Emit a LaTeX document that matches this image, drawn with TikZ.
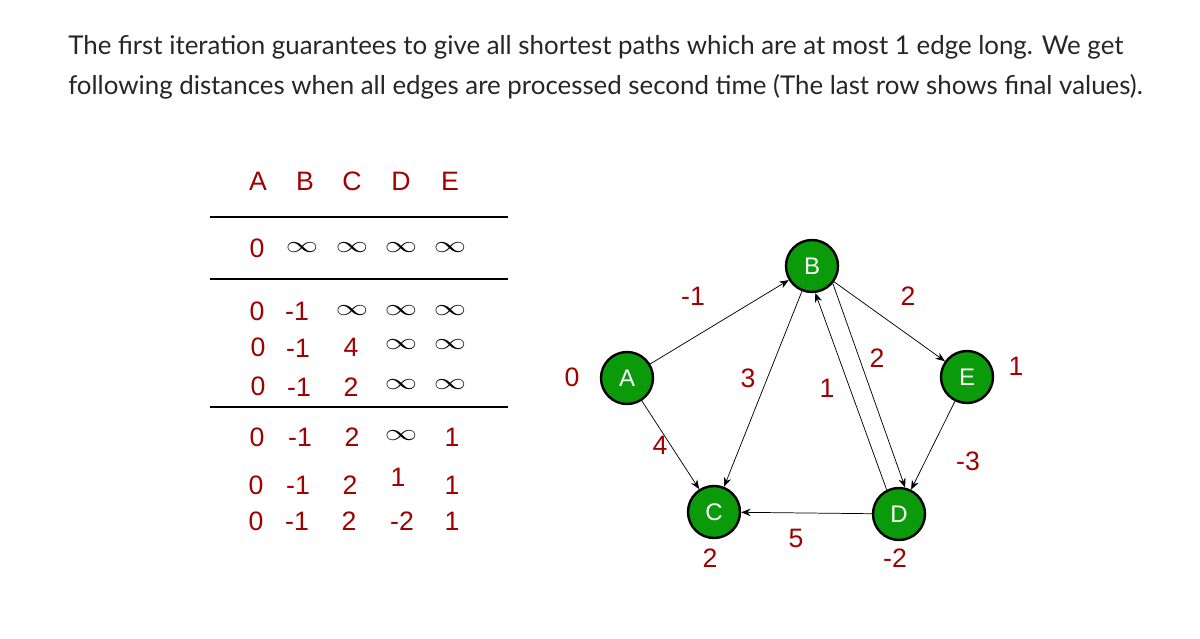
\documentclass[tikz,border=0pt]{standalone}
\usepackage{fontspec}
\setmainfont{Liberation Sans}
\newfontfamily\titlefont{Lato}
\usetikzlibrary{arrows.meta}
\definecolor{dred}{HTML}{A00000}
\definecolor{ngreen}{HTML}{0A9A0A}
\tikzset{
 val/.style={text=dred,font=\fontsize{20}{20}\selectfont,inner sep=0pt},
 inf/.style={inner sep=0pt,font=\fontsize{17}{17}\selectfont},
 vtx/.style={circle,draw=black,line width=1.8pt,fill=ngreen,minimum size=39pt,inner sep=0pt,text=white,font=\fontsize{18}{18}\selectfont},
 edge/.style={-{Stealth[length=7pt,width=5.5pt]},line width=0.55pt},
 rule/.style={line width=0.9pt}
}
\newcommand{\infs}{\scalebox{1.4}[1]{$\infty$}}
\begin{document}
\begin{tikzpicture}[x=0.75pt,y=-0.75pt]
\useasboundingbox (0,0) rectangle (1200,639);
\node[anchor=west,inner sep=0pt,font=\titlefont\fontsize{19.4}{20}\selectfont,text=black!85] (t1) at (68,47) {The first iteration guarantees to give all shortest paths which are at most 1 edge long. We get};
\node[anchor=west,inner sep=0pt,font=\titlefont\fontsize{19.4}{20}\selectfont,text=black!85] (t2) at (68,87) {following distances when all edges are processed second time (The last row shows final values).};
% header
\foreach \l/\x in {A/258,B/305,C/352,D/401,E/450} \node[val] (h\l) at (\x,181) {\l};
\draw[rule] (210,217) -- (508,217);
\draw[rule] (210,279) -- (508,279);
\draw[rule] (210,407) -- (508,407);
% row 0
\node[val] (r1a) at (257,248) {0};
\foreach \x/\n in {302/b,352/c,401/d,450/e} \node[inf] (r1\n) at (\x,248) {\infs};
% rows
\node[val] (r2a) at (257,311) {0}; \node[val] (r2b) at (297,311) {-1};
\foreach \x/\n in {352/c,401/d,450/e} \node[inf] (r2\n) at (\x,311) {\infs};
\node[val] (r3a) at (258,347) {0}; \node[val] (r3b) at (298,348) {-1}; \node[val] (r3c) at (351,347) {4};
\foreach \x/\n in {401/d,450/e} \node[inf] (r3\n) at (\x,345) {\infs};
\node[val] (r4a) at (258,386) {0}; \node[val] (r4b) at (299,387) {-1}; \node[val] (r4c) at (351,387) {2};
\foreach \x/\n in {401/d,450/e} \node[inf] (r4\n) at (\x,385) {\infs};
\node[val] (r5a) at (257,437) {0}; \node[val] (r5b) at (300,437) {-1}; \node[val] (r5c) at (352,437) {2};
\node[inf] (r5d) at (401,436) {\infs}; \node[val] (r5e) at (452,437) {1};
\node[val] (r6a) at (256,485) {0}; \node[val] (r6b) at (298,485) {-1}; \node[val] (r6c) at (350,485) {2};
\node[val] (r6d) at (398,477) {1}; \node[val] (r6e) at (452,485) {1};
\node[val] (r7a) at (256,521) {0}; \node[val] (r7b) at (297,521) {-1}; \node[val] (r7c) at (349,521) {2};
\node[val] (r7d) at (402,521) {-2}; \node[val] (r7e) at (452,521) {1};
% graph
\node[vtx] (A) at (627,378) {A};
\node[vtx] (B) at (812,266) {B};
\node[vtx] (C) at (714,512) {C};
\node[vtx] (D) at (899,514) {D};
\node[vtx] (E) at (967,377) {E};
\draw[edge] (A) -- (B);
\draw[edge] (A) -- (C);
\draw[edge] (B) -- (C);
\draw[edge] (B) -- (E);
\draw[edge] (E) -- (D);
\draw[edge] (D) -- (C);
\draw[edge] (B.320) -- (D.77);
\draw[edge] (D.117) -- (B.277);
\node[val] (la) at (572,377) {0};
\node[val] (lab) at (693,296) {-1};
\node[val] (lbc) at (748,378) {3};
\node[val] (ldb) at (827,388) {1};
\node[val] (lbd) at (877,358) {2};
\node[val] (lbe) at (908,296) {2};
\node[val] (le) at (1016,366) {1};
\node[val] (lac) at (660,445) {4};
\node[val] (led) at (968,461) {-3};
\node[val] (ldc) at (796,538) {5};
\node[val] (lc) at (710,558) {2};
\node[val] (ld) at (895,558) {-2};
\end{tikzpicture}
\end{document}
